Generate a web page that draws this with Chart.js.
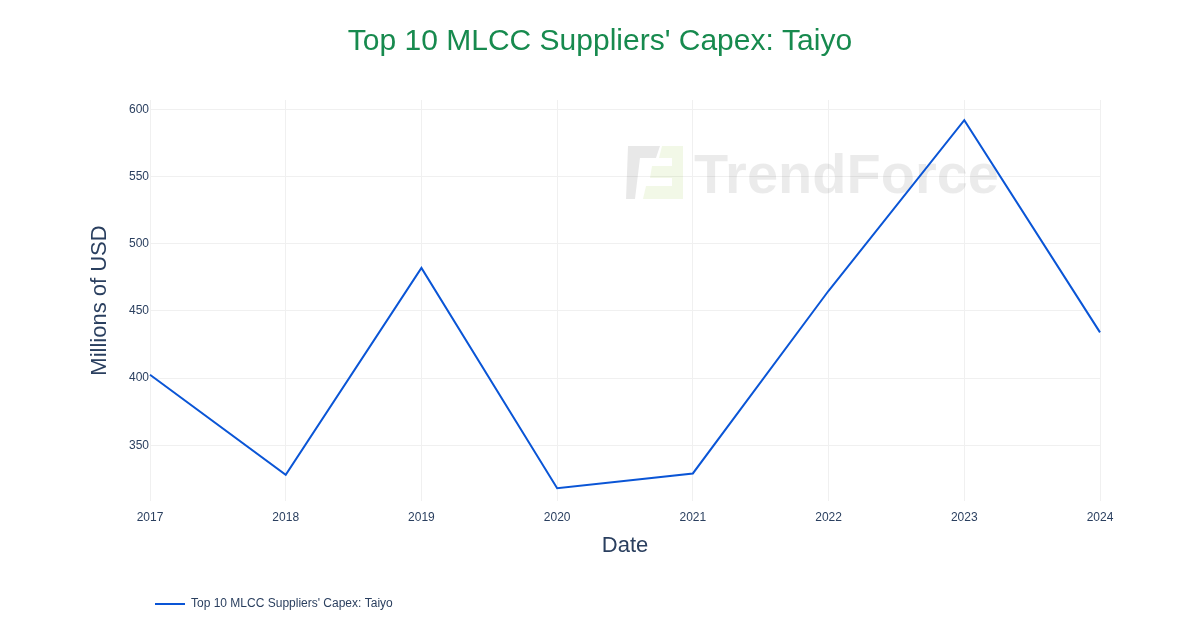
<!DOCTYPE html>
<html>
<head>
<meta charset="utf-8">
<script src="https://cdn.jsdelivr.net/npm/chart.js@4.4.1/dist/chart.umd.min.js"></script>
<style>
  html, body { margin: 0; padding: 0; background: #fff; }
  #wrap { width: 1200px; height: 630px; }
</style>
</head>
<body>
<div id="wrap"><canvas id="canvas"></canvas></div>
<script>
// values
var years = ['2017', '2018', '2019', '2020', '2021', '2022', '2023', '2024'];
var capex = [402.5, 328, 482, 318, 329, 465, 592, 434];
var yTicks = [350, 400, 450, 500, 550, 600];

var seriesName = "Top 10 MLCC Suppliers' Capex: Taiyo";
var textColor = '#2a3f5f';
var gridColor = '#f0f0f0';
var lineColor = '#0a55d6';
var fontFamily = '"Liberation Sans", Arial, sans-serif';

// faint TrendForce watermark behind the line
var watermark = {
    id: 'watermark',
    beforeDatasetsDraw: function (chart) {
        var ctx = chart.ctx;
        ctx.save();
        // logo pieces
        ctx.fillStyle = 'rgba(0,0,0,0.09)';
        ctx.beginPath();
        ctx.moveTo(628, 146); ctx.lineTo(660, 146); ctx.lineTo(656, 158);
        ctx.lineTo(640, 158); ctx.lineTo(635, 199); ctx.lineTo(626, 199);
        ctx.closePath(); ctx.fill();
        ctx.fillStyle = 'rgba(150,200,60,0.12)';
        ctx.beginPath();
        ctx.moveTo(662, 146); ctx.lineTo(683, 146); ctx.lineTo(683, 199);
        ctx.lineTo(643, 199); ctx.lineTo(646, 186); ctx.lineTo(672, 186);
        ctx.lineTo(672, 178); ctx.lineTo(650, 178); ctx.lineTo(652, 166);
        ctx.lineTo(672, 166); ctx.lineTo(672, 158); ctx.lineTo(659, 158);
        ctx.closePath(); ctx.fill();
        ctx.fillStyle = 'rgba(0,0,0,0.08)';
        ctx.font = 'bold 56px "Liberation Sans", Arial, sans-serif';
        ctx.textBaseline = 'alphabetic';
        ctx.textAlign = 'left';
        ctx.fillText('TrendForce', 694, 193);
        ctx.restore();
    }
};

var ctx = document.getElementById('canvas');

new Chart(ctx, {
    type: 'line',
    data: {
        labels: years,
        datasets: [{
            label: seriesName,
            data: capex,
            borderColor: lineColor,
            backgroundColor: lineColor,
            borderWidth: 2,
            pointRadius: 0,
            tension: 0,
            fill: false
        }]
    },
    options: {
        responsive: true,
        maintainAspectRatio: false,
        animation: false,
        layout: {
            padding: { left: 100, right: 100, top: 0, bottom: 10 }
        },
        plugins: {
            title: {
                display: true,
                text: seriesName,
                color: '#178a4e',
                font: { family: fontFamily, size: 30, weight: 'normal' },
                padding: { top: 24, bottom: 40 }
            },
            legend: {
                display: true,
                position: 'bottom',
                align: 'start',
                fullSize: false,
                labels: {
                    color: textColor,
                    font: { family: fontFamily, size: 12 },
                    boxWidth: 30,
                    boxHeight: 0,
                    padding: 5
                }
            },
            tooltip: { enabled: false }
        },
        scales: {
            x: {
                type: 'category',
                offset: false,
                grid: { color: gridColor, drawTicks: false, lineWidth: 1 },
                border: { display: false },
                ticks: {
                    color: textColor,
                    font: { family: fontFamily, size: 12 },
                    padding: 9,
                    maxRotation: 0,
                    autoSkip: false
                },
                title: {
                    display: true,
                    text: 'Date',
                    color: textColor,
                    font: { family: fontFamily, size: 22 },
                    padding: { top: 0, bottom: 34 }
                },
                afterFit: function (scale) { scale.height = 92; }
            },
            y: {
                min: 308.5,
                max: 607,
                grid: { color: gridColor, drawTicks: false, lineWidth: 1 },
                border: { display: false },
                ticks: {
                    color: textColor,
                    font: { family: fontFamily, size: 12 },
                    padding: 1
                },
                afterBuildTicks: function (scale) {
                    scale.ticks = yTicks.map(function (v) { return { value: v }; });
                },
                title: {
                    display: true,
                    text: 'Millions of USD',
                    color: textColor,
                    font: { family: fontFamily, size: 22 },
                    padding: { top: -13, bottom: 0 }
                },
                afterFit: function (scale) { scale.width = 50; }
            }
        }
    },
    plugins: [watermark]
});
</script>
</body>
</html>
